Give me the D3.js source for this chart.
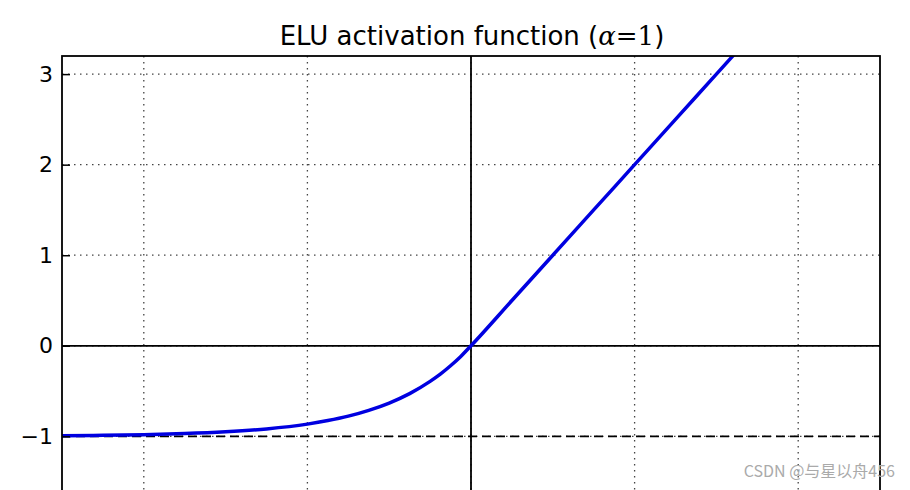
<!DOCTYPE html>
<html><head><meta charset="utf-8">
<script src="https://cdn.jsdelivr.net/npm/d3@7"></script>
<style>body{margin:0;background:#fff}svg{display:block}</style>
</head><body><svg id="c" width="910" height="490"></svg>
<script>
const xs = [-5,-4.5,-4,-3.5,-3,-2.5,-2,-1.75,-1.5,-1.25,-1,-0.75,-0.5,-0.375,-0.25,-0.125,0,0.5,1,1.5,2,2.5,3,3.3];
const ys = [-0.993,-0.989,-0.982,-0.970,-0.950,-0.918,-0.865,-0.826,-0.777,-0.713,-0.632,-0.528,-0.393,-0.313,-0.221,-0.118,0,0.5,1,1.5,2,2.5,3,3.3];
const xTicks = [-4,-2,0,2,4];
const yTicks = [-1,0,1,2,3];
const svg = d3.select("#c");
const L=62,R=880,T=56,B=545;
const x=d3.scaleLinear().domain([-5,5]).range([L,R]);
const y=d3.scaleLinear().domain([-2.2,3.2]).range([B,T]);
svg.append("clipPath").attr("id","cp").append("rect").attr("x",L).attr("y",T).attr("width",R-L).attr("height",B-T);
const g=svg.append("g");
xTicks.forEach(t=>g.append("line").attr("x1",x(t)).attr("x2",x(t)).attr("y1",T).attr("y2",B).attr("stroke","#444").attr("stroke-width",1.3).attr("stroke-dasharray","1.5,4.5"));
yTicks.forEach(t=>g.append("line").attr("x1",L).attr("x2",R).attr("y1",y(t)).attr("y2",y(t)).attr("stroke","#444").attr("stroke-width",1.3).attr("stroke-dasharray","1.5,4.5"));
g.append("line").attr("x1",L).attr("x2",R).attr("y1",y(0)).attr("y2",y(0)).attr("stroke","#000").attr("stroke-width",1.8);
g.append("line").attr("x1",x(0)).attr("x2",x(0)).attr("y1",T).attr("y2",B).attr("stroke","#000").attr("stroke-width",1.8);
g.append("line").attr("x1",L).attr("x2",R).attr("y1",y(-1)).attr("y2",y(-1)).attr("stroke","#000").attr("stroke-width",1.8).attr("stroke-dasharray","9,5");
g.append("path").datum(xs.map((v,i)=>[v,ys[i]])).attr("clip-path","url(#cp)")
 .attr("d",d3.line().x(d=>x(d[0])).y(d=>y(d[1])).curve(d3.curveMonotoneX))
 .attr("fill","none").attr("stroke","#0000e0").attr("stroke-width",3.5);
g.append("rect").attr("x",L).attr("y",T).attr("width",R-L).attr("height",B-T).attr("fill","none").attr("stroke","#000").attr("stroke-width",1.8);
const ya=svg.append("g").attr("transform",`translate(${L},0)`).call(d3.axisLeft(y).tickValues(yTicks).tickSize(0).tickPadding(9).tickFormat(d=>d<0?"\u2212"+(-d):d));
ya.select(".domain").remove();
ya.selectAll("text").attr("font-family","DejaVu Sans").attr("font-size",22).attr("fill","#000");
ya.selectAll(".tick").append("line").attr("x2",8).attr("stroke","#000").attr("stroke-width",1.5);
svg.append("text").attr("x",472).attr("y",45).attr("text-anchor","middle").attr("font-family","DejaVu Sans").attr("font-size",26)
 .html('ELU activation function (<tspan font-family="DejaVu Serif" font-style="italic">α</tspan><tspan font-family="DejaVu Serif">=1</tspan>)');
svg.append("text").attr("x",895).attr("y",477).attr("text-anchor","end").attr("font-family","Noto Sans CJK SC").attr("font-size",16).attr("fill","#aaa").text("CSDN @与星以舟456");
</script></body></html>
